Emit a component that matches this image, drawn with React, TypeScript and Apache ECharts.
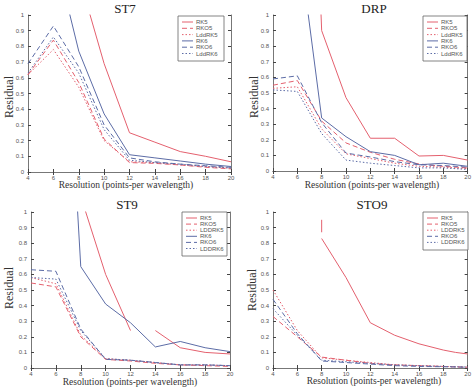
import React, { useEffect, useRef } from "react";
import * as echarts from "echarts";

// Resolution (points-per wavelength)
const resolution = [4, 6, 8, 10, 12, 14, 16, 18, 20];

// ST7
const st7RK5 = [2.2, 1.8, 1.25, 0.69, 0.25, 0.19, 0.13, 0.1, 0.065];
const st7RKO5 = [0.62, 0.84, 0.57, 0.21, 0.06, 0.055, 0.045, 0.03, 0.02];
const st7LddRK5 = [0.62, 0.78, 0.54, 0.2, 0.065, 0.06, 0.045, 0.035, 0.025];
const st7RK6 = [2.0, 1.43, 0.77, 0.37, 0.11, 0.09, 0.07, 0.05, 0.035];
const st7RKO6 = [0.69, 0.93, 0.67, 0.3, 0.09, 0.065, 0.05, 0.04, 0.03];
const st7LddRK6 = [0.63, 0.86, 0.63, 0.27, 0.075, 0.06, 0.05, 0.035, 0.025];

// DRP
const drpRK5 = [6.0, 4.9, 0.9, 0.47, 0.21, 0.21, 0.096, 0.1, 0.07];
const drpRKO5 = [0.55, 0.58, 0.32, 0.18, 0.12, 0.075, 0.045, 0.03, 0.02];
const drpLddRK5 = [0.53, 0.54, 0.27, 0.11, 0.08, 0.05, 0.03, 0.025, 0.015];
const drpRK6 = [2.0, 1.54, 0.34, 0.22, 0.124, 0.1, 0.04, 0.05, 0.03];
const drpRKO6 = [0.59, 0.61, 0.31, 0.115, 0.09, 0.06, 0.04, 0.035, 0.025];
const drpLddRK6 = [0.52, 0.51, 0.24, 0.07, 0.05, 0.035, 0.02, 0.02, 0.01];

// ST9
const st9RK5X = [8, 10, 12, 13, 14, 16, 18, 20];
const st9RK5 = [1.1, 0.6, 0.24, null, 0.24, 0.13, 0.1, 0.09];
const st9RKO5 = [0.545, 0.52, 0.2, 0.055, 0.045, 0.03, 0.02, 0.015, 0.01];
const st9LDDRK5 = [0.58, 0.54, 0.21, 0.06, 0.05, 0.035, 0.02, 0.02, 0.015];
const st9RK6 = [4.5, 3.45, 0.65, 0.41, 0.29, 0.135, 0.17, 0.13, 0.105];
const st9RKO6 = [0.63, 0.62, 0.25, 0.055, 0.05, 0.035, 0.02, 0.02, 0.015];
const st9LDDRK6 = [0.58, 0.57, 0.24, 0.06, 0.05, 0.035, 0.02, 0.02, 0.015];

// STO9
const sto9RK5X = [8, 8, 8, 8, 10, 12, 14, 16, 18, 19, 20];
const sto9RK5 = [0.95, 0.87, null, 0.83, 0.58, 0.29, 0.21, 0.155, 0.115, 0.1, 0.09];
const sto9RKO5 = [0.33, 0.2, 0.07, 0.05, 0.03, 0.02, 0.015, 0.01, 0.005];
const sto9LDDRK5 = [0.5, 0.24, 0.065, 0.05, 0.035, 0.02, 0.015, 0.01, 0.005];
const sto9RKO6 = [0.44, 0.22, 0.045, 0.035, 0.025, 0.015, 0.01, 0.008, 0.005];
const sto9LDDRK6 = [0.38, 0.21, 0.05, 0.04, 0.03, 0.02, 0.015, 0.01, 0.006];

const titles = ["ST7", "DRP", "ST9", "STO9"];
const legendTop = ["RK5", "RKO5", "LddRK5", "RK6", "RKO6", "LddRK6"];
const legendST9 = ["RK5", "RKO5", "LDDRK5", "RK6", "RKO6", "LDDRK6"];
const legendSTO9 = ["RK5", "RKO5", "LDDRK5", "RKO6", "LDDRK6"];

const RED = "#e4606e";
const BLUE = "#5c6ca6";

type Kind = "solid" | "dashed" | "dotted";
const styleFor = (name: string): { color: string; kind: Kind } => {
  const up = name.toUpperCase();
  const color = up.endsWith("5") ? RED : BLUE;
  const kind: Kind = up.startsWith("LDD") ? "dotted" : up.startsWith("RKO") ? "dashed" : "solid";
  return { color, kind };
};
const dashFor = (kind: Kind): any =>
  kind === "solid" ? "solid" : kind === "dashed" ? [5, 3] : [1.5, 2];
const dashArr = (kind: Kind): number[] | null =>
  kind === "solid" ? null : kind === "dashed" ? [5, 3] : [1.5, 2];

const grids = [
  { left: 28, top: 15, width: 203, height: 157 },
  { left: 273, top: 15, width: 197, height: 156 },
  { left: 31, top: 212, width: 199, height: 156 },
  { left: 273, top: 212, width: 197, height: 156 },
];

const titlePos = [
  [125, 8],
  [374, 8],
  [127, 204],
  [372, 204],
];
const xNamePos = [
  [126, 185],
  [372, 185],
  [130, 382],
  [374, 381],
];
const yNamePos = [
  [9, 97],
  [254, 97],
  [9, 288],
  [252, 290],
];
// legend boxes: x, y, width, height, row spacing
const legendBox = [
  [178, 16, 46, 45, 6.3],
  [423, 16, 44, 45, 6.3],
  [182, 212, 45, 44, 6.1],
  [423, 212, 45, 38, 6.1],
];

export default function App() {
  const ref = useRef<HTMLDivElement>(null);
  useEffect(() => {
    if (!ref.current) return;
    const chart = echarts.init(ref.current, undefined, { renderer: "svg" });

    const panels: { name: string; x: number[]; y: (number | null)[] }[][] = [
      [
        { name: "RK5", x: resolution, y: st7RK5 },
        { name: "RKO5", x: resolution, y: st7RKO5 },
        { name: "LddRK5", x: resolution, y: st7LddRK5 },
        { name: "RK6", x: resolution, y: st7RK6 },
        { name: "RKO6", x: resolution, y: st7RKO6 },
        { name: "LddRK6", x: resolution, y: st7LddRK6 },
      ],
      [
        { name: "RK5", x: resolution, y: drpRK5 },
        { name: "RKO5", x: resolution, y: drpRKO5 },
        { name: "LddRK5", x: resolution, y: drpLddRK5 },
        { name: "RK6", x: resolution, y: drpRK6 },
        { name: "RKO6", x: resolution, y: drpRKO6 },
        { name: "LddRK6", x: resolution, y: drpLddRK6 },
      ],
      [
        { name: "RK5", x: st9RK5X, y: st9RK5 },
        { name: "RKO5", x: resolution, y: st9RKO5 },
        { name: "LDDRK5", x: resolution, y: st9LDDRK5 },
        { name: "RK6", x: resolution, y: st9RK6 },
        { name: "RKO6", x: resolution, y: st9RKO6 },
        { name: "LDDRK6", x: resolution, y: st9LDDRK6 },
      ],
      [
        { name: "RK5", x: sto9RK5X, y: sto9RK5 },
        { name: "RKO5", x: resolution, y: sto9RKO5 },
        { name: "LDDRK5", x: resolution, y: sto9LDDRK5 },
        { name: "RKO6", x: resolution, y: sto9RKO6 },
        { name: "LDDRK6", x: resolution, y: sto9LDDRK6 },
      ],
    ];
    const legends = [legendTop, legendTop, legendST9, legendSTO9];

    const xAxes: any[] = [];
    const yAxes: any[] = [];
    const series: any[] = [];
    const graphics: any[] = [];
    const serif = "Liberation Serif";
    const textStyle = (text: string, size: number, fill: string) => ({
      text, fontSize: size, fontFamily: serif, fontWeight: "normal", fill,
      align: "center", verticalAlign: "middle",
    });

    grids.forEach((g, i) => {
      const axLine = { lineStyle: { color: "#777", width: 1 } };
      const tick = { inside: true, length: 3, lineStyle: { color: "#444" } };
      xAxes.push({
        gridIndex: i, type: "value", min: 4, max: 20, interval: 2,
        axisLine: axLine, axisTick: tick, splitLine: { show: false },
        axisLabel: { fontSize: 6, color: "#555", margin: 3, fontFamily: "Liberation Sans" },
      });
      xAxes.push({
        gridIndex: i, type: "value", position: "top", min: 4, max: 20, interval: 2,
        axisLine: axLine, axisTick: tick, splitLine: { show: false },
        axisLabel: { show: false },
      });
      const fmt = (v: number) => {
        const r = Math.round(v * 10) / 10;
        return r === 0 ? "0" : r === 1 ? "1" : r.toFixed(1);
      };
      yAxes.push({
        gridIndex: i, type: "value", min: 0, max: 1, interval: 0.1,
        axisLine: axLine, axisTick: tick, splitLine: { show: false },
        axisLabel: { fontSize: 6, color: "#555", margin: 4, formatter: fmt, fontFamily: "Liberation Sans" },
      });
      yAxes.push({
        gridIndex: i, type: "value", position: "right", min: 0, max: 1, interval: 0.1,
        axisLine: axLine, axisTick: tick, splitLine: { show: false },
        axisLabel: { show: false },
      });

      panels[i].forEach((s) => {
        const st = styleFor(s.name);
        series.push({
          type: "line",
          name: s.name,
          xAxisIndex: 2 * i,
          yAxisIndex: 2 * i,
          symbol: "none",
          connectNulls: false,
          clip: true,
          lineStyle: { color: st.color, width: 1, type: dashFor(st.kind) },
          itemStyle: { color: st.color },
          data: s.x.map((xv, k) => [xv, s.y[k] == null ? "-" : s.y[k]]),
        });
      });

      graphics.push({
        type: "text", x: titlePos[i][0], y: titlePos[i][1],
        style: textStyle(titles[i], 13, "#222"),
      });
      graphics.push({
        type: "text", x: xNamePos[i][0], y: xNamePos[i][1],
        style: textStyle("Resolution (points-per wavelength)", 9.5, "#333"),
      });
      graphics.push({
        type: "text", x: yNamePos[i][0], y: yNamePos[i][1], rotation: Math.PI / 2,
        style: textStyle("Residual", 12, "#333"),
      });

      // legend box drawn as graphics
      const [bx, by, bw, bh, gap] = legendBox[i];
      graphics.push({
        type: "rect", z: 100,
        shape: { x: bx, y: by, width: bw, height: bh },
        style: { fill: "#fff", stroke: "#666", lineWidth: 0.8 },
      });
      legends[i].forEach((n, k) => {
        const st = styleFor(n);
        const yy = by + 6 + k * gap;
        graphics.push({
          type: "line", z: 101,
          shape: { x1: bx + 4, y1: yy, x2: bx + 15, y2: yy },
          style: { stroke: st.color, lineWidth: 1, lineDash: dashArr(st.kind) },
        });
        graphics.push({
          type: "text", z: 101, x: bx + 18, y: yy,
          style: {
            text: n, fontSize: 6, fontFamily: "Liberation Sans", fill: "#555",
            align: "left", verticalAlign: "middle",
          },
        });
      });
    });

    chart.setOption({
      animation: false,
      backgroundColor: "#fff",
      grid: grids.map((g) => ({ ...g, containLabel: false })),
      xAxis: xAxes,
      yAxis: yAxes,
      series,
      graphic: graphics,
    });
    return () => chart.dispose();
  }, []);

  return (
    <div
      ref={ref}
      style={{ position: "absolute", left: 0, top: 0, width: 474, height: 388, background: "#fff" }}
    />
  );
}
